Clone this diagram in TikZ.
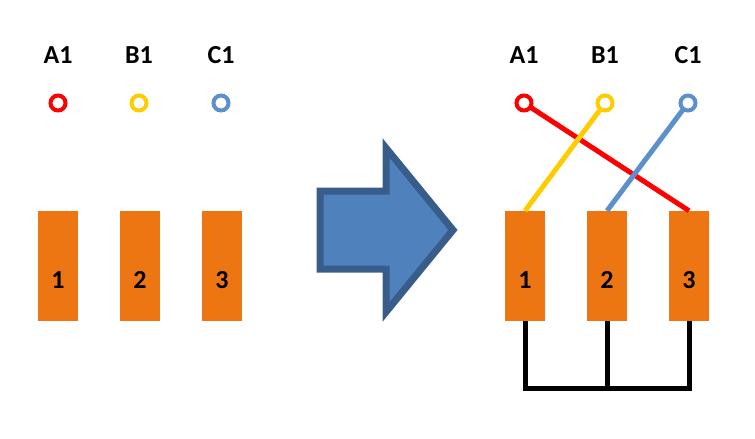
\documentclass[tikz,border=0pt]{standalone}
\usepackage{fontspec}
\setmainfont{Carlito}
\usetikzlibrary{positioning}
\definecolor{rectorange}{RGB}{237,118,18}
\definecolor{pinred}{RGB}{255,0,0}
\definecolor{pinyellow}{RGB}{255,204,0}
\definecolor{pinblue}{RGB}{91,144,204}
\definecolor{arrowfill}{RGB}{79,129,189}
\definecolor{arrowline}{RGB}{56,93,138}
\tikzset{
  term/.style={fill=rectorange,minimum width=40,minimum height=110,inner sep=0},
  num/.style={font=\bfseries\fontsize{26}{30}\selectfont},
  pin/.style={circle,draw=#1,line width=4,fill=white,minimum size=15,inner sep=0},
  lbl/.style={font=\bfseries\fontsize{26}{30}\selectfont},
  wire/.style={line width=5,#1},
}
\begin{document}
\begin{tikzpicture}[x=1pt,y=-1pt]
  \useasboundingbox (0,0) rectangle (755,439);
  % left side
  \foreach \n/\x/\c in {A1/58/pinred,B1/139/pinyellow,C1/221/pinblue}{
    \node[lbl] (l\n) at (\x,55) {\n};
    \node[pin=\c] (lp\n) at (\x,103) {};
  }
  \foreach \n/\x in {1/58,2/140,3/222}{
    \node[term] (lt\n) at (\x,266) {};
    \node[num] at (\x,280) {\n};
  }

  % arrow
  \draw[arrowline,fill=arrowfill,line width=7,line join=miter]
    (320,191) -- (386,191) -- (386,148) -- (453,230) -- (386,312)
    -- (386,269) -- (320,269) -- cycle;

  % right side
  \foreach \n/\x in {A1/524,B1/605,C1/688}
    \node[lbl] (r\n) at (\x,55) {\n};
  \coordinate (b1) at (525,388);
  \coordinate (b2) at (607,388);
  \coordinate (b3) at (689,388);
  \draw[wire=black] (525,266) -- (b1) -- (b3) -- (689,266);
  \draw[wire=black] (607,266) -- (b2);
  \foreach \t/\x in {1/525,2/607,3/689}{
    \node[term] (rt\t) at (\x,266) {};
    \node[num] at (\x,280) {\t};
  }
  \draw[wire=pinred] (524,103) -- (rt3.north);
  \draw[wire=pinyellow] (605,103) -- (rt1.north);
  \draw[wire=pinblue] (688,103) -- (rt2.north);
  \node[pin=pinred] (rpA1) at (524,103) {};
  \node[pin=pinyellow] (rpB1) at (605,103) {};
  \node[pin=pinblue] (rpC1) at (688,103) {};
\end{tikzpicture}
\end{document}
